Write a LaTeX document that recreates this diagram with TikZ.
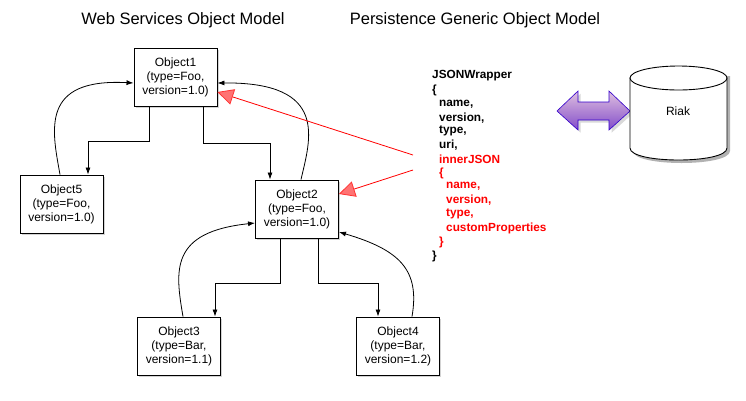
\documentclass[tikz,border=0pt]{standalone}
\usepackage{fontspec}
\setmainfont{Liberation Sans}
\usetikzlibrary{arrows.meta,shapes.geometric,shadows}
\begin{document}
\begin{tikzpicture}[x=1pt,y=-1pt,
 obj/.style={draw,fill=white,line width=0.9pt,minimum width=83pt,minimum height=58pt,align=center,font=\fontsize{12}{14}\selectfont,drop shadow={opacity=0.35,shadow xshift=1.5pt,shadow yshift=-1.5pt}},
 conn/.style={line width=0.8pt,-{Latex[length=7pt,width=5pt]}},
 red/.style={draw=red,line width=0.8pt,-{Triangle[open,length=16pt,width=16pt,fill=red!55,color=red!80]}},
 ttl/.style={font=\fontsize{16.5}{18}\selectfont},
 js/.style={font=\bfseries\fontsize{11.8}{13}\selectfont,anchor=west,inner sep=0}]
\useasboundingbox (0,0) rectangle (746,400);
\node[ttl] (t1) at (183,20) {Web Services Object Model};
\node[ttl] (t2) at (475,20) {Persistence Generic Object Model};
\node[obj] (o1) at (175.5,77.5) {Object1\\(type=Foo,\\version=1.0)};
\node[obj] (o5) at (61.5,204) {Object5\\(type=Foo,\\version=1.0)};
\node[obj] (o2) at (297,209) {Object2\\(type=Foo,\\version=1.0)};
\node[obj] (o3) at (179,346) {Object3\\(type=Bar,\\version=1.1)};
\node[obj] (o4) at (398,346) {Object4\\(type=Bar,\\version=1.2)};
% orthogonal connectors
\draw[conn] (o1.south -| 149,0) |- (88,141) -- (o5.north -| 88,0);
\draw[conn] (o1.south -| 203,0) |- (270,143) -- (o2.north -| 270,0);
\draw[conn] (o2.south -| 280,0) |- (215,283) -- (o3.north -| 215,0);
\draw[conn] (o2.south -| 318,0) |- (378,283) -- (o4.north -| 378,0);
% curved back connectors
\draw[conn] (o5.north -| 60,0) .. controls (52,130) and (40,78) .. (o1.west |- 0,83);
\draw[conn] (o2.north -| 301,0) .. controls (310,140) and (330,82) .. (o1.east |- 0,83);
\draw[conn] (o3.north -| 183,0) .. controls (175,270) and (170,232) .. (o2.west |- 0,223);
\draw[conn] (o4.north -| 412,0) .. controls (420,270) and (400,250) .. (o2.east |- 0,232);
% red connectors
\coordinate (r1) at (413,155);
\coordinate (r2) at (413,170);
\draw[red] (r1) -- (o1.east |- 0,92);
\draw[red] (r2) -- (o2.east |- 0,194);
% JSON text
\node[js] (j1) at (432,76) {JSONWrapper};
\node[js] (j2) at (432,90) {\{};
\node[js] (j3) at (439,104) {name,};
\node[js] (j4) at (439,118) {version,};
\node[js] (j5) at (439,131) {type,};
\node[js] (j6) at (439,145) {uri,};
\node[js,text=red] (j7) at (439,159) {innerJSON};
\node[js,text=red] (j8) at (439,173) {\{};
\node[js,text=red] (j9) at (446,186) {name,};
\node[js,text=red] (j10) at (446,200) {version,};
\node[js,text=red] (j11) at (446,214) {type,};
\node[js,text=red] (j12) at (446,228) {customProperties};
\node[js,text=red] (j13) at (439,242) {\}};
\node[js] (j14) at (432,256) {\}};
% double arrow
\draw[draw=blue!60!violet,line width=0.6pt,top color=violet!25,bottom color=violet!60!blue!70,drop shadow={opacity=0.3}]
 (557,111) -- (578,91) -- (578,102) -- (609,102) -- (609,91) -- (630,111) -- (609,130) -- (609,120) -- (578,120) -- (578,130) -- cycle;
% cylinder
\fill[black,opacity=0.3] (633,76) -- (633,151) .. controls (633,167) and (730,167) .. (730,151) -- (730,76) -- cycle;
\filldraw[fill=white,line width=0.9pt] (630,78) -- (630,148) .. controls (630,164) and (727,164) .. (727,148) -- (727,78) -- cycle;
\filldraw[fill=white,line width=0.9pt] (678.5,78) ellipse [x radius=48.5pt, y radius=12pt];
\node[font=\fontsize{12}{14}\selectfont] (riak) at (678,111) {Riak};
\end{tikzpicture}
\end{document}
